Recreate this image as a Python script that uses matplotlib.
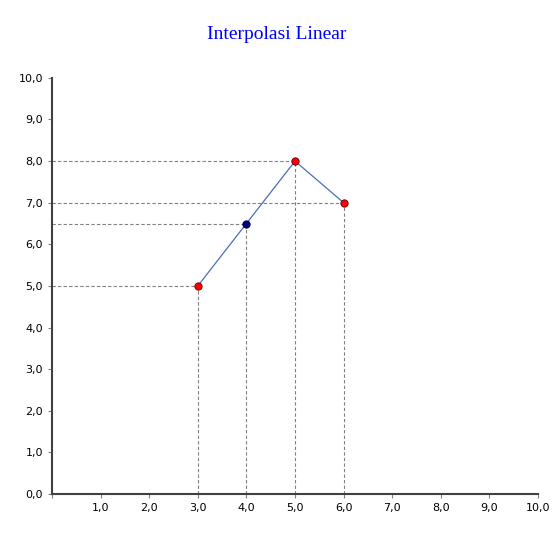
import matplotlib
matplotlib.use("Agg")
import matplotlib.pyplot as plt

# known points and the interpolated one
known_x = [3, 5, 6]
known_y = [5, 8, 7]
interp_x = [4]
interp_y = [6.5]
line_x = [3, 4, 5, 6]
line_y = [5, 6.5, 8, 7]

fig = plt.figure(figsize=(5.53, 5.37), dpi=100)
ax = fig.add_axes([0.094, 0.080, 0.879, 0.775])
ax.set_xlim(0, 10)
ax.set_ylim(0, 10)

# dashed guide lines to each point
for x, y in zip(line_x, line_y):
    ax.plot([0, x], [y, y], ls="--", color="#808080", lw=0.8, dashes=(3, 2))
    ax.plot([x, x], [0, y], ls="--", color="#808080", lw=0.8, dashes=(3, 2))

ax.plot(line_x, line_y, color="#4a6fb5", lw=0.9)
ax.scatter(known_x, known_y, s=28, color="red", edgecolors="#600000", linewidths=0.6, zorder=3)
ax.scatter(interp_x, interp_y, s=28, color="#000080", edgecolors="black", linewidths=0.6, zorder=3)

ticks = list(range(0, 11))
ax.set_yticks(ticks)
ax.set_yticklabels([f"{t:.1f}".replace(".", ",") for t in ticks])
ax.set_xticks(ticks)
ax.set_xticklabels([""] + [f"{t:.1f}".replace(".", ",") for t in ticks[1:]])
ax.tick_params(labelsize=8, length=3, color="#808080")

for side in ("top", "right"):
    ax.spines[side].set_visible(False)
for side in ("left", "bottom"):
    ax.spines[side].set_color("#404040")
    ax.spines[side].set_linewidth(1.5)

fig.text(0.5, 0.935, "Interpolasi Linear", ha="center", va="center",
         color="blue", fontsize=14, family="Liberation Serif")

fig.savefig("out.png", dpi=100)
